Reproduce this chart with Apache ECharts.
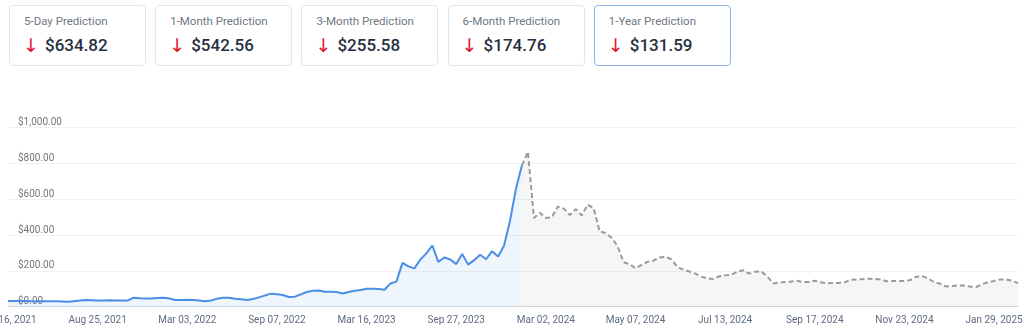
<!DOCTYPE html>
<html>
<head>
<meta charset="utf-8">
<script src="https://cdn.jsdelivr.net/npm/echarts@6/dist/echarts.min.js"></script>
<style>
  html, body { margin: 0; padding: 0; background: #fff; width: 1024px; height: 334px; overflow: hidden; }
  #chart { position: absolute; left: 0; top: 0; width: 1024px; height: 334px; }
  .card { position: absolute; top: 5px; width: 135px; height: 59px; border: 1px solid #e4e6ea; border-radius: 4px; background: #fff; box-sizing: content-box; font-family: Roboto, "Noto Sans", sans-serif; z-index: 2; }
  .card.active { border-color: #8db6ec; }
  .card .t { position: absolute; left: 14px; top: 8px; font-size: 11.5px; color: #6f7883; white-space: nowrap; }
  .card .arr { position: absolute; left: 13px; top: 27px; font-size: 19px; line-height: 24px; color: #e3172d; font-family: "DejaVu Sans", sans-serif; }
  .card .v { position: absolute; left: 35px; top: 27px; font-size: 17px; line-height: 24px; font-weight: 500; color: #263040; white-space: nowrap; }
</style>
</head>
<body>
<div id="chart"></div>
<script>
// Prediction summary cards
const cardTitles = ['5-Day Prediction', '1-Month Prediction', '3-Month Prediction', '6-Month Prediction', '1-Year Prediction'];
const cardValues = ['$634.82', '$542.56', '$255.58', '$174.76', '$131.59'];

// Axis tick labels (one every labelStep points)
const tickLabels = ['Feb 16, 2021', 'Aug 25, 2021', 'Mar 03, 2022', 'Sep 07, 2022', 'Mar 16, 2023',
  'Sep 27, 2023', 'Mar 02, 2024', 'May 07, 2024', 'Jul 13, 2024', 'Sep 17, 2024', 'Nov 23, 2024', 'Jan 29, 2025'];
const labelStep = 15;

// Historical price (points 0..86)
const historyValues = [
  32, 32, 33, 32, 31, 30, 30, 31, 30, 29, 28, 31, 34, 38, 36, 34, 34, 36, 34, 34,
  34, 50, 47, 46, 46, 48, 50, 46, 37, 37, 39, 37, 35, 30, 35, 45, 50, 50, 45, 41,
  37, 43, 52, 63, 73, 69, 65, 54, 56, 69, 82, 89, 91, 84, 84, 82, 74, 82, 89, 93,
  100, 100, 99, 95, 130, 140, 245, 225, 214, 264, 298, 342, 250, 275, 264, 238, 295, 235, 260, 290,
  265, 310, 280, 340, 480, 660, 790
];

// Predicted price (points 86..169)
const forecastValues = [
  790, 865, 496, 525, 496, 500, 560, 548, 512, 545, 510, 570, 550, 420, 412, 385, 338, 248, 238, 214,
  233, 251, 257, 275, 279, 265, 222, 207, 197, 185, 168, 158, 155, 170, 175, 178, 195, 204, 185, 195,
  198, 172, 130, 135, 138, 140, 145, 138, 138, 145, 136, 131, 132, 133, 136, 150, 152, 154, 156, 155,
  152, 142, 144, 144, 143, 149, 168, 170, 158, 136, 128, 113, 116, 119, 119, 112, 110, 126, 137, 144,
  152, 152, 145, 132
];

// Cards
cardTitles.forEach((title, i) => {
  const card = document.createElement('div');
  card.className = 'card' + (i === cardTitles.length - 1 ? ' active' : '');
  card.style.left = (9 + i * 146.2) + 'px';
  card.innerHTML = '<div class="t"></div><div class="arr">\u2193</div><div class="v"></div>';
  card.querySelector('.t').textContent = title;
  card.querySelector('.v').textContent = cardValues[i];
  document.body.appendChild(card);
});

// Chart
const forecastStart = historyValues.length - 1;
const pointCount = forecastStart + forecastValues.length;
const categories = Array.from({ length: pointCount }, (_, i) => String(i));
const historyData = historyValues.concat(Array(pointCount - historyValues.length).fill(null));
const forecastData = Array(forecastStart).fill(null).concat(forecastValues);

const chart = echarts.init(document.getElementById('chart'), null, { renderer: 'canvas' });
chart.setOption({
  animation: false,
  grid: { left: 8, right: 6, top: 127.7, bottom: 27.3, containLabel: false, outerBoundsMode: 'none' },
  xAxis: {
    type: 'category',
    data: categories,
    boundaryGap: false,
    axisTick: { show: false },
    axisLine: { show: true, lineStyle: { color: '#dcdcdc', width: 1 } },
    axisLabel: {
      interval: (idx) => idx % labelStep === 0,
      formatter: (val, idx) => tickLabels[Math.round(idx / labelStep)] || '',
      color: '#5e6c80',
      fontFamily: 'Roboto',
      fontSize: 10,
      margin: 9
    },
    splitLine: { show: false }
  },
  yAxis: {
    type: 'value',
    min: 0,
    max: 1000,
    interval: 200,
    axisLine: { show: false },
    axisTick: { show: false },
    splitLine: { lineStyle: { color: '#f1f1f1', width: 1 } },
    axisLabel: {
      inside: true,
      margin: 10,
      verticalAlign: 'bottom',
      padding: [0, 0, 0, 0],
      color: '#767676',
      fontFamily: 'Roboto',
      fontSize: 10,
      formatter: (v) => '$' + v.toLocaleString('en-US', { minimumFractionDigits: 2, maximumFractionDigits: 2 })
    }
  },
  series: [
    {
      name: 'History',
      type: 'line',
      data: historyData,
      showSymbol: false,
      symbol: 'none',
      lineStyle: { color: '#4a8ee6', width: 2 },
      areaStyle: { color: 'rgba(74,142,230,0.12)' },
      z: 3
    },
    {
      name: 'Prediction',
      type: 'line',
      data: forecastData,
      showSymbol: false,
      symbol: 'none',
      lineStyle: { color: '#9a9a9a', width: 2, type: [5, 3] },
      areaStyle: { color: 'rgba(0,0,0,0.05)' },
      z: 3
    }
  ]
});
</script>
</body>
</html>
